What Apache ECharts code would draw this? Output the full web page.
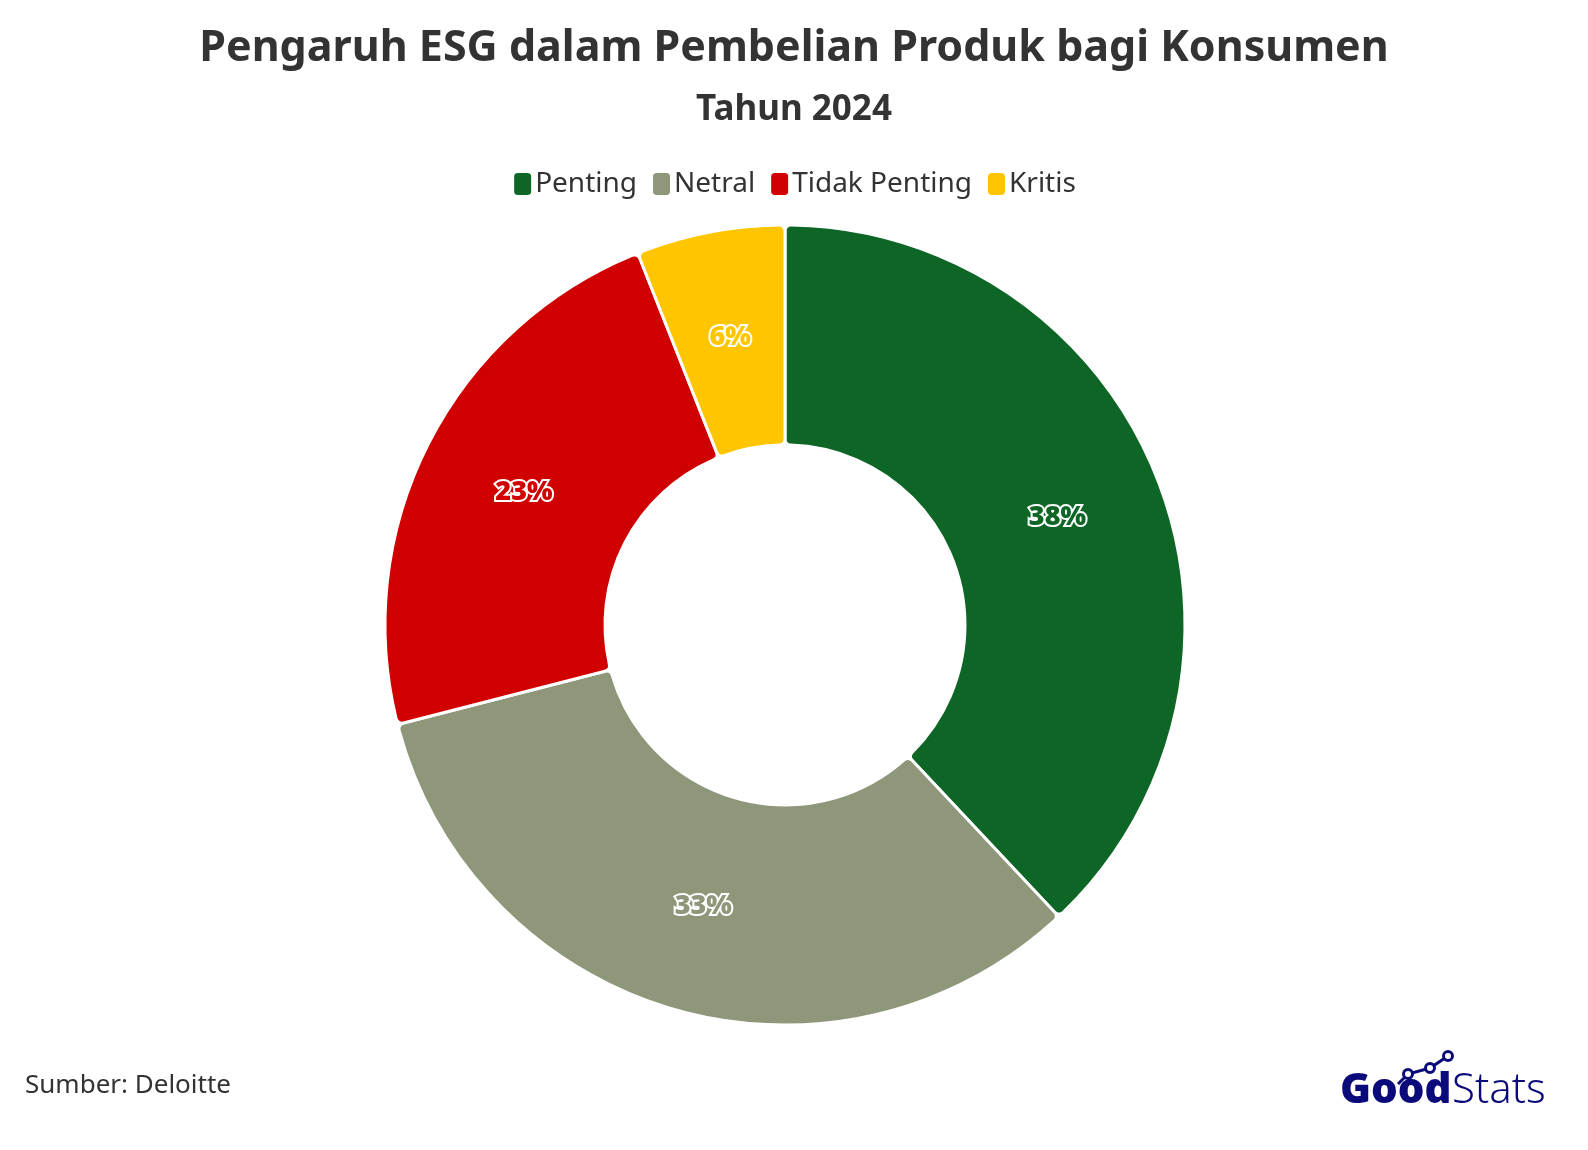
<!DOCTYPE html>
<html><head><meta charset="utf-8">
<script src="https://cdn.jsdelivr.net/npm/echarts@6/dist/echarts.min.js"></script>
<style>html,body{margin:0;padding:0;background:#fff}#c{width:1588px;height:1150px}</style>
</head><body><div id="c"></div>
<script>
const categories = ['Penting', 'Netral', 'Tidak Penting', 'Kritis'];
const values = [38, 33, 23, 6];
const colors = ['#0d6626', '#8e977a', '#d10000', '#ffc600'];

const chart = echarts.init(document.getElementById('c'));
const F = "'Noto Sans', sans-serif";
chart.setOption({
  animation: false,
  color: colors,
  title: [
    {text: 'Pengaruh ESG dalam Pembelian Produk bagi Konsumen', left: 'center', top: 22,
     textStyle: {fontFamily: F, fontSize: 43, fontWeight: 'bold', color: '#333'}},
    {text: 'Tahun 2024', left: 'center', top: 88,
     textStyle: {fontFamily: F, fontSize: 35, fontWeight: 'bold', color: '#333'}},
    {text: 'Sumber: Deloitte', left: 20, top: 1068,
     textStyle: {fontFamily: F, fontSize: 26, fontWeight: 'normal', color: '#333'}}
  ],
  legend: {
    top: 165, left: 'center', icon: 'roundRect', itemWidth: 19, itemHeight: 24, itemGap: 14,
    textStyle: {fontFamily: F, fontSize: 28, color: '#333', padding: [0, 0, 0, -2]},
    data: categories
  },
  series: [{
    type: 'pie', center: [785, 625], radius: [180, 400], startAngle: 90, clockwise: true,
    itemStyle: {borderColor: '#fff', borderWidth: 3, borderRadius: 6},
    label: {position: 'inside', formatter: '{c}%', fontFamily: F, fontSize: 27, fontWeight: 900,
      color: 'inherit', textBorderColor: '#fff', textBorderWidth: 4},
    labelLine: {show: false},
    data: categories.map((n, i) => ({name: n, value: values[i],
      label: {color: colors[i]}}))
  }],
  graphic: [
    {type: 'text', left: 1340, top: 1070, style: {text: 'Good', font: "900 42px 'Noto Sans'", fill: '#0a0a7a'}},
    {type: 'text', left: 1452, top: 1070, style: {text: 'Stats', font: "300 42px 'Noto Sans'", fill: '#0a0a7a'}},
    {type: 'polyline', shape: {points: [[1398, 1084], [1408, 1074], [1430, 1068], [1448, 1056]]},
     style: {stroke: '#0a0a7a', lineWidth: 3, fill: null}},
    {type: 'circle', shape: {cx: 1408, cy: 1074, r: 4.5}, style: {stroke: '#0a0a7a', lineWidth: 3, fill: '#fff'}},
    {type: 'circle', shape: {cx: 1430, cy: 1068, r: 4.5}, style: {stroke: '#0a0a7a', lineWidth: 3, fill: '#fff'}},
    {type: 'circle', shape: {cx: 1448, cy: 1056, r: 4.5}, style: {stroke: '#0a0a7a', lineWidth: 3, fill: '#fff'}}
  ]
});
</script></body></html>
